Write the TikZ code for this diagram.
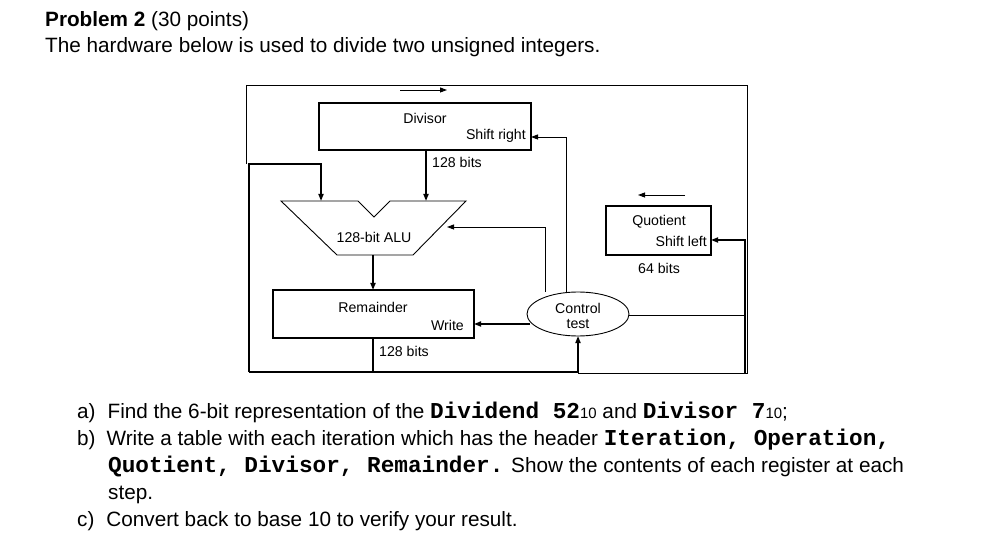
\documentclass[tikz,border=0pt]{standalone}
\usepackage{fontspec}
\setmainfont{Liberation Sans}
\newfontfamily\cour{Liberation Mono}
\usetikzlibrary{arrows.meta}
\newcommand\mybf[1]{{\fontsize{22.8}{24}\cour\bfseries #1}}
\begin{document}
\begin{tikzpicture}[x=1bp,y=-1bp,
  box/.style={draw,line width=1.4bp},
  ln/.style={line width=0.9bp},
  tk/.style={line width=1.6bp},
  arr/.style={-{Triangle[length=7bp,width=5bp]}},
  lab/.style={font=\fontsize{14.2}{16}\selectfont,inner sep=0pt},
  txt/.style={font=\fontsize{20.8}{24}\selectfont,inner sep=0pt,anchor=base west}]
\useasboundingbox (0,0) rectangle (990,537);
% header
\node[txt] (t1) at (45,27) {\textbf{Problem 2} (30 points)};
\node[txt] (t2) at (45,53) {The hardware below is used to divide two unsigned integers.};
% frame
\draw[ln] (246,85) -- (747,85) -- (747,373) -- (578,373);
\draw[ln] (246,85) -- (246,164);
% divisor
\draw[box] (319,103) rectangle (531,150);
\node[lab] (dv) at (425,118) {Divisor};
\node[lab,anchor=east] (sr) at (526,136) {Shift right};
\node[lab] (b1) at (457,162) {128 bits};
\draw[ln,arr] (400,90) -- (447,90);
% ALU
\draw[ln] (281,201) -- (358,201) -- (374,217) -- (390,201) -- (466,201) -- (413,255) -- (337,255) -- cycle;
\node[lab] (alu) at (374,237) {128-bit ALU};
% remainder
\draw[box] (273,290) rectangle (474,338);
\node[lab] (rm) at (373,307) {Remainder};
\node[lab,anchor=east] (wr) at (464,325) {Write};
\node[lab] (b2) at (404,351) {128 bits};
% quotient
\draw[box] (606,206) rectangle (711,255);
\node[lab] (qt) at (659,222) {Quotient};
\node[lab,anchor=east] (sl) at (707,241) {Shift left};
\node[lab] (b3) at (659,268) {64 bits};
\draw[ln,arr] (685,195) -- (638,195);
% control
\draw[ln] (578,314) ellipse (51 and 22);
\node[lab,align=center] (ct) at (578,316) {Control\\[-1pt]test};
% connectors
\draw[tk,arr] (426,150) -- (426,201);
\draw[tk,arr] (373,255) -- (373,290);
\draw[ln,arr] (566,292) -- (566,137) -- (531,137);
\draw[ln,arr] (545,292) -- (545,227) -- (447,227);
\draw[tk,arr] (530,324) -- (474,324);
\draw[ln] (629,315) -- (745,315);
\draw[tk,arr] (745,373) -- (745,240) -- (711,240);
\draw[tk] (373,338) -- (373,372);
\draw[tk,arr] (249,372) -- (249,164) -- (321,164) -- (321,201);
\draw[tk,arr] (249,372) -- (578,372) -- (578,336);
% questions
\node[txt] (a) at (77,418) {a)\hspace{12bp}Find the 6-bit representation of the \mybf{Dividend 52}{\fontsize{15}{17}\selectfont 10} and \mybf{Divisor 7}{\fontsize{15}{17}\selectfont 10};};
\node[txt] (b) at (77,445) {b)\hspace{11bp}Write a table with each iteration which has the header \mybf{Iteration, Operation,}};
\node[txt] (b2l) at (108,472) {\mybf{Quotient, Divisor, Remainder.} Show the contents of each register at each};
\node[txt] (b3l) at (108,499) {step.};
\node[txt] (c) at (77,526) {c)\hspace{12bp}Convert back to base 10 to verify your result.};
\end{tikzpicture}
\end{document}
